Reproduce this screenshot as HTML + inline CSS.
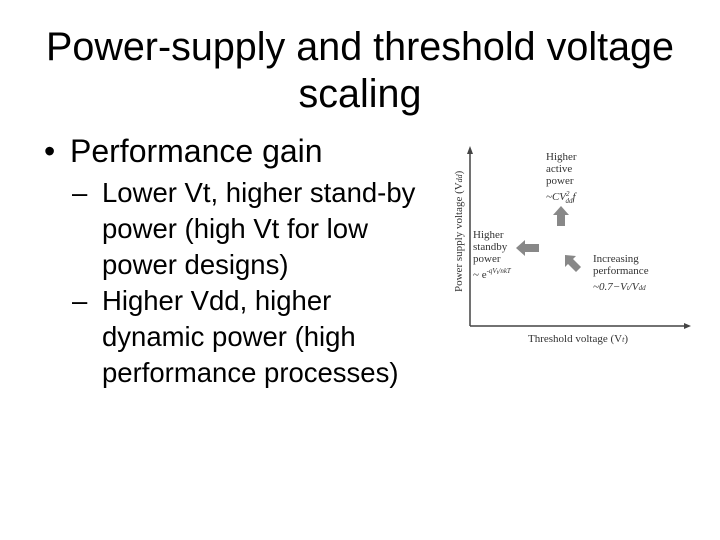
<!DOCTYPE html>
<html><head><style>
body{margin:0;width:720px;height:540px;background:#fff;font-family:"Liberation Sans",sans-serif;color:#000;position:relative;overflow:hidden}
.t{position:absolute;left:0;width:720px;text-align:center;font-size:39.5px;line-height:47px}
.b{position:absolute;font-size:32px;white-space:nowrap}
.s{position:absolute;font-size:27.5px;white-space:nowrap;line-height:36px}
</style></head><body>
<div class="t" style="top:24px">Power-supply and threshold voltage</div>
<div class="t" style="top:71px;left:0px">scaling</div>
<div class="b" style="left:44px;top:133px">•</div>
<div class="b" style="left:70px;top:133px">Performance gain</div>
<div class="s" style="left:72px;top:175px">–<br><br><br>–</div>
<div class="s" style="left:102px;top:175px">Lower Vt, higher stand-by<br>power (high Vt for low<br>power designs)<br>Higher Vdd, higher<br>dynamic power (high<br>performance processes)</div>
<svg width="720" height="540" style="position:absolute;left:0;top:0" font-family="Liberation Serif,serif" fill="#333">
<line x1="470" y1="326" x2="688" y2="326" stroke="#444" stroke-width="1.5"/>
<line x1="470" y1="326" x2="470" y2="150" stroke="#444" stroke-width="1.5"/>
<polygon points="470,146 467,154 473,154" fill="#444"/>
<polygon points="691,326 684,323 684,329" fill="#444"/>
<text x="528" y="342" font-size="11">Threshold voltage (V<tspan font-style="italic" font-size="8">t</tspan>)</text>
<text transform="translate(462,292) rotate(-90)" font-size="11">Power supply voltage (V<tspan font-style="italic" font-size="8">dd</tspan>)</text>
<g font-size="11">
<text x="546" y="160">Higher</text><text x="546" y="172">active</text><text x="546" y="184">power</text>
<text x="546" y="200" font-style="italic">~CV<tspan font-size="7" dy="-4">2</tspan><tspan font-size="7" dx="-4" dy="7">dd</tspan><tspan dy="-3">f</tspan></text>
<text x="473" y="238">Higher</text><text x="473" y="250">standby</text><text x="473" y="262">power</text>
<text x="473" y="278">~ e<tspan font-size="7" dy="-5" font-style="italic">-qV</tspan><tspan font-size="6" dy="1">t</tspan><tspan font-size="7" dy="-1" font-style="italic">/nkT</tspan></text>
<text x="593" y="262">Increasing</text><text x="593" y="274">performance</text>
<text x="593" y="290" font-style="italic">~0.7−V<tspan font-size="7">t</tspan>/V<tspan font-size="7">dd</tspan></text>
</g>
<polygon points="561,206 553,215 557,215 557,226 565,226 565,215 569,215" fill="#888"/>
<polygon points="516,248 525,240 525,244 539,244 539,252 525,252 525,256" fill="#888"/>
<polygon points="565,255 576,256 573,259 581,267 576,272 568,264 565,267" fill="#888"/>
</svg>
</body></html>
